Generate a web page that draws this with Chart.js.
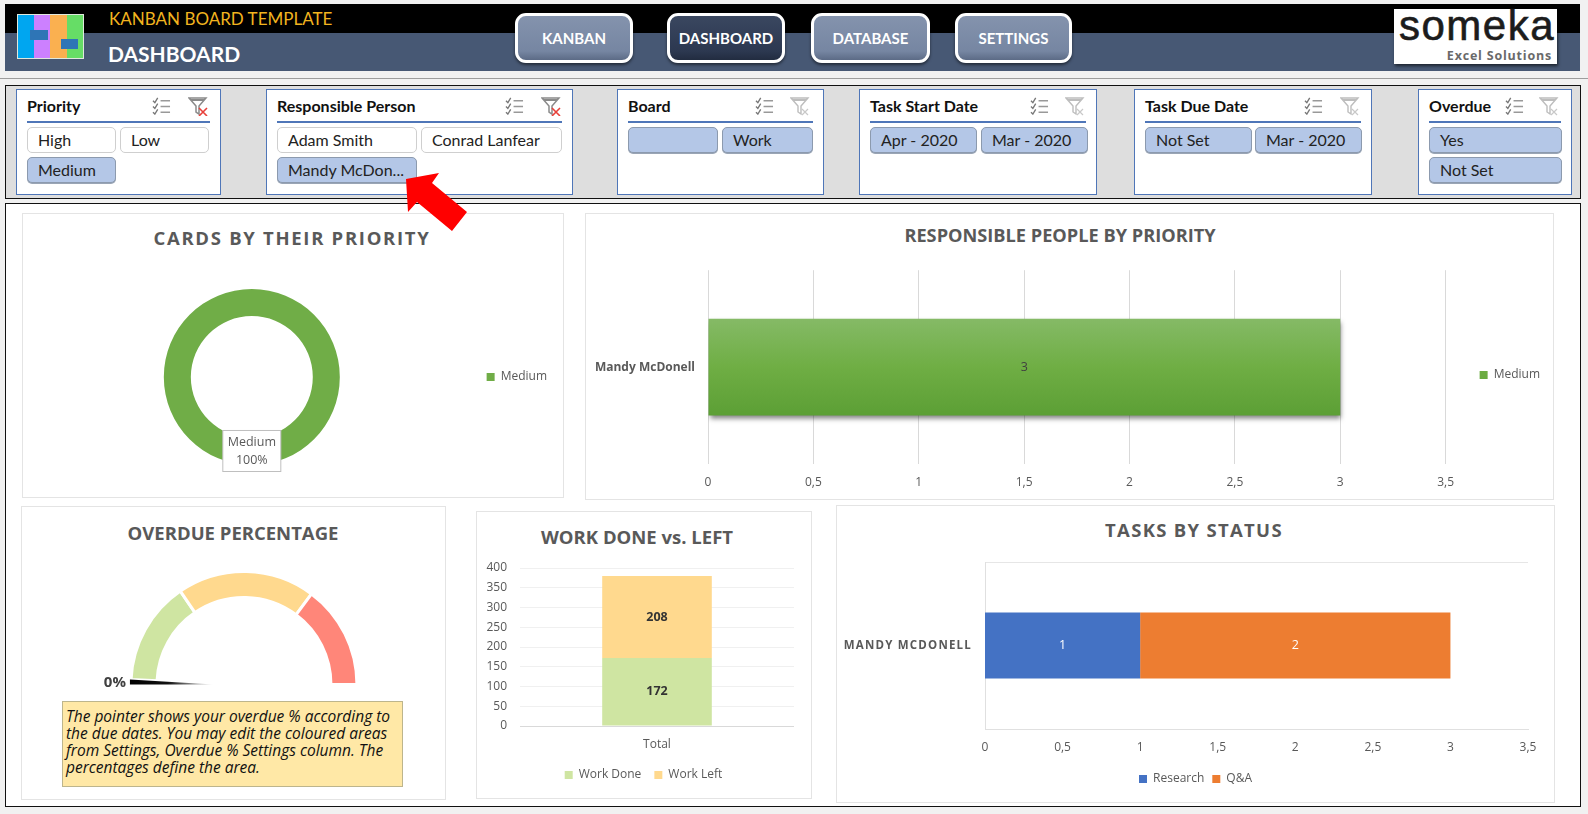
<!DOCTYPE html>
<html>
<head>
<meta charset="utf-8">
<title>Kanban Dashboard</title>
<script src="https://cdn.jsdelivr.net/npm/chart.js@4"></script>
<style>
  html, body { margin: 0; padding: 0; background: #f1f1f1; overflow: hidden; }
  body { position: relative; width: 1588px; height: 814px; font-family: Lato, sans-serif; }
  .abs, canvas, .card, .ttl, .sl, .b, .ic, .nav { position: absolute; }
  canvas { display: block; }

  .nav { top: 13px; height: 44px; line-height: 44px; text-align: center; color: #fff; font-weight: 700; font-size: 15px;
    border: 3px solid #fff; border-radius: 11px; background: linear-gradient(#8493ad, #7686a2 80%, #5c6b86);
    box-shadow: 0 2px 3px rgba(0,0,0,.5); }
  .nav.on { background: linear-gradient(#3a4760, #2c3850 80%, #222c40); }

  .sl { top: 89px; height: 106px; background: #fff; border: 1.5px solid #4f76b8; box-sizing: border-box; }
  .sl b { position: absolute; left: 10px; top: 6px; font-size: 16px; color: #111; }
  .sl i { position: absolute; left: 10px; right: 10px; top: 31px; height: 1.5px; background: #4f76b8; }
  .b { height: 26px; line-height: 23px; box-sizing: border-box; padding-left: 10px; font-size: 16px; color: #222; border-radius: 5px;
    background: #fff; border: 1px solid #cfcfcf; white-space: nowrap; }
  .b.on { background: #b4c7e7; border-color: #8c9aae; box-shadow: 0 1px 0 #9aa5b5; }
  .ic { top: 97px; }

  .card { background: #fff; border: 1.5px solid #e4e4e4; box-sizing: border-box; }
  .ttl { font-family: "Open Sans", sans-serif; font-weight: 700; font-size: 18.5px; color: #595959; text-align: center; white-space: nowrap; line-height: 24px; transform: translateX(-50%); }
</style>
</head>
<body>

<!-- header -->
<div class="abs" style="left:5px;top:4px;width:1575px;height:29px;background:#000"></div>
<div class="abs" style="left:5px;top:33px;width:1575px;height:38px;background:#475874"></div>
<div class="abs" style="left:0;top:78px;width:1588px;height:1px;background:#9d9d9d"></div>

<div class="abs" style="left:17px;top:14px;width:67px;height:45px;border:1px solid #dfe8dd;box-sizing:border-box;background:linear-gradient(90deg,#00a6f0 0 25%,#cc80ff 25% 50%,#fab050 50% 75%,#66dd66 75%)">
  <div class="abs" style="left:12px;top:15px;width:18px;height:10px;background:#2e75b6"></div>
  <div class="abs" style="left:43px;top:24px;width:17px;height:10px;background:#2e75b6"></div>
</div>
<div class="abs" style="left:109px;top:8px;font-size:17px;color:#f2b41f;white-space:nowrap">KANBAN BOARD TEMPLATE</div>
<div class="abs" style="left:108px;top:41px;font-size:21px;font-weight:700;color:#fff;white-space:nowrap">DASHBOARD</div>

<div class="nav" style="left:515px;width:112px">KANBAN</div>
<div class="nav on" style="left:667px;width:112px">DASHBOARD</div>
<div class="nav" style="left:811px;width:113px">DATABASE</div>
<div class="nav" style="left:955px;width:111px">SETTINGS</div>

<div class="abs" style="left:1394px;top:9px;width:163px;height:55px;background:#fff;box-shadow:1px 2px 3px rgba(0,0,0,.6)">
  <div class="abs" style="left:5px;top:-7px;font-family:'Liberation Sans';font-size:42px;letter-spacing:1.5px;-webkit-text-stroke:.6px #1c1c1c;color:#1c1c1c;white-space:nowrap">someka</div>
  <div class="abs" style="right:5px;top:38px;font-family:'Open Sans';font-weight:700;font-size:12.5px;letter-spacing:.8px;color:#6a6a6a;white-space:nowrap">Excel Solutions</div>
</div>

<!-- filter band -->
<div class="abs" style="left:5px;top:85px;width:1576px;height:114px;background:#dedede;border:1.5px solid #111;box-sizing:border-box"></div>

<div class="sl" style="left:16px;width:205px"><b>Priority</b><i></i></div>
<div class="b" style="left:27px;top:127px;width:89px">High</div>
<div class="b" style="left:120px;top:127px;width:89px">Low</div>
<div class="b on" style="left:27px;top:157px;width:89px">Medium</div>

<div class="sl" style="left:266px;width:307px"><b>Responsible Person</b><i></i></div>
<div class="b" style="left:277px;top:127px;width:140px">Adam Smith</div>
<div class="b" style="left:421px;top:127px;width:141px">Conrad Lanfear</div>
<div class="b on" style="left:277px;top:157px;width:140px">Mandy McDon...</div>

<div class="sl" style="left:617px;width:207px"><b>Board</b><i></i></div>
<div class="b on" style="left:628px;top:127px;width:90px"></div>
<div class="b on" style="left:722px;top:127px;width:91px">Work</div>

<div class="sl" style="left:859px;width:238px"><b>Task Start Date</b><i></i></div>
<div class="b on" style="left:870px;top:127px;width:107px">Apr - 2020</div>
<div class="b on" style="left:981px;top:127px;width:107px">Mar - 2020</div>

<div class="sl" style="left:1134px;width:238px"><b>Task Due Date</b><i></i></div>
<div class="b on" style="left:1145px;top:127px;width:107px">Not Set</div>
<div class="b on" style="left:1255px;top:127px;width:107px">Mar - 2020</div>

<div class="sl" style="left:1418px;width:154px"><b>Overdue</b><i></i></div>
<div class="b on" style="left:1429px;top:127px;width:133px">Yes</div>
<div class="b on" style="left:1429px;top:157px;width:133px">Not Set</div>

<svg width="0" height="0" style="position:absolute">
  <symbol id="chk" viewBox="0 0 20 19"><g fill="none" stroke="#777" stroke-width="1.4">
    <path d="M1 4l2 2 3-5M1 10l2 2 3-5M1 16l2 2 3-5"/><path d="M9 4h10M9 10h10M9 16h10" stroke="#999" stroke-width="1.6"/></g></symbol>
  <symbol id="flt" viewBox="0 0 20 19"><path d="M1 1h17l-7 8v8l-3-2V9z" fill="none" stroke="#bdbdbd" stroke-width="1.4"/><path d="M2 2h15l-2 2H4z" fill="#bdbdbd"/><path d="M12 12l6 6M18 12l-6 6" stroke="#c8c8c8" stroke-width="1.2"/></symbol>
  <symbol id="del" viewBox="0 0 20 19"><path d="M1 1h17l-7 8v8l-3-2V9z" fill="none" stroke="#8a8a8a" stroke-width="1.5"/><path d="M2 2h15l-2 2H4z" fill="#8a8a8a"/><path d="M11 11l8 8M19 11l-8 8" stroke="#e8413a" stroke-width="1.6"/></symbol>
</svg>
<svg class="ic" style="left:152px" width="19" height="18"><use href="#chk"/></svg>
<svg class="ic" style="left:188px" width="20" height="19"><use href="#del"/></svg>
<svg class="ic" style="left:505px" width="19" height="18"><use href="#chk"/></svg>
<svg class="ic" style="left:541px" width="20" height="19"><use href="#del"/></svg>
<svg class="ic" style="left:755px" width="19" height="18"><use href="#chk"/></svg>
<svg class="ic" style="left:790px" width="20" height="19"><use href="#flt"/></svg>
<svg class="ic" style="left:1030px" width="19" height="18"><use href="#chk"/></svg>
<svg class="ic" style="left:1065px" width="20" height="19"><use href="#flt"/></svg>
<svg class="ic" style="left:1304px" width="19" height="18"><use href="#chk"/></svg>
<svg class="ic" style="left:1340px" width="20" height="19"><use href="#flt"/></svg>
<svg class="ic" style="left:1505px" width="19" height="18"><use href="#chk"/></svg>
<svg class="ic" style="left:1539px" width="20" height="19"><use href="#flt"/></svg>

<!-- main panel -->
<div class="abs" style="left:5px;top:203px;width:1576px;height:604px;background:#fff;border:1.5px solid #111;box-sizing:border-box"></div>

<div class="card" style="left:22px;top:213px;width:542px;height:285px"></div>
<div class="card" style="left:585px;top:213px;width:969px;height:287px"></div>
<div class="card" style="left:21px;top:506px;width:425px;height:294px"></div>
<div class="card" style="left:476px;top:511px;width:336px;height:288px"></div>
<div class="card" style="left:836px;top:505px;width:719px;height:298px"></div>

<div class="ttl" style="left:292px;top:226px;letter-spacing:1.7px">CARDS BY THEIR PRIORITY</div>
<div class="ttl" style="left:1060px;top:223px;font-size:18.2px">RESPONSIBLE PEOPLE BY PRIORITY</div>
<div class="ttl" style="left:233px;top:521px">OVERDUE PERCENTAGE</div>
<div class="ttl" style="left:637px;top:525px">WORK DONE vs. LEFT</div>
<div class="ttl" style="left:1194px;top:518px;letter-spacing:1.3px">TASKS BY STATUS</div>

<canvas id="chartPriority" width="534" height="234" style="left:23px;top:260px"></canvas>
<canvas id="chartPeople" width="965" height="250" style="left:585px;top:250px"></canvas>
<canvas id="chartGauge" width="288" height="136" style="left:100px;top:560px"></canvas>
<canvas id="chartWork" width="335" height="287" style="left:476px;top:511px"></canvas>
<canvas id="chartStatus" width="719" height="297" style="left:836px;top:505px"></canvas>

<div class="abs" style="left:62px;top:701px;width:341px;height:86px;box-sizing:border-box;background:#ffe8a6;border:1.5px solid #bdb58c;padding:6px 3px;font:italic 15.5px/17px 'Open Sans',sans-serif;color:#111;white-space:nowrap">The pointer shows your overdue % according to<br>the due dates. You may edit the coloured areas<br>from Settings, Overdue % Settings column. The<br>percentages define the area.</div>

<svg class="abs" style="left:0;top:0" width="1588" height="300">
  <polygon points="406,179 439,173 432,183 467,212 452,231 417,202 408,212" fill="#ff0000"/>
</svg>

<script>
// =======================
// DATOS
// =======================
const priorityLabels = ["Medium"];
const priorityValues = [100];

const peopleLabels = ["Mandy McDonell"];
const peopleMedium = [3];

const gaugeLabels = ["Low", "Middle", "High"];
const gaugeZones = [30, 40, 30];
const overduePct = 0;

const workLabels = ["Total"];
const workDone = [172];
const workLeft = [208];

const statusPeople = ["MANDY MCDONELL"];
const statusResearch = [1];
const statusQA = [2];

// =======================
// DEFAULTS
// =======================
Chart.defaults.font.family = '"Open Sans", sans-serif';
Chart.defaults.font.size = 12;
Chart.defaults.color = "#595959";
Chart.defaults.animation = false;
Chart.defaults.responsive = false;
Chart.defaults.plugins.tooltip.enabled = false;

const comma = v => String(v).replace(".", ",");

function legendOpts(position, padding) {
  return {
    position: position,
    labels: { boxWidth: 8, boxHeight: 8, padding: padding, font: { size: 12 }, color: "#595959" }
  };
}

// empty axis on the right: keeps the plot short of the edge while the legend stays centred on the card
function rightSpacer(width) {
  return {
    type: "linear",
    position: "right",
    ticks: { display: false },
    grid: { display: false },
    border: { display: false },
    afterFit(s) { s.width = width; }
  };
}

// numbers in the middle of each bar
const valueLabels = {
  id: "valueLabels",
  afterDatasetsDraw(chart, args, opts) {
    const ctx = chart.ctx;
    ctx.save();
    ctx.fillStyle = opts.color || "#404040";
    ctx.font = (opts.weight || "400") + ' 12.5px "Open Sans"';
    ctx.textAlign = "center";
    ctx.textBaseline = "middle";
    chart.data.datasets.forEach((ds, i) => {
      chart.getDatasetMeta(i).data.forEach((bar, j) => {
        const c = bar.getCenterPoint();
        ctx.fillText(ds.data[j], c.x, c.y);
      });
    });
    ctx.restore();
  }
};

// soft shadow under the green bar
const barShadow = {
  id: "barShadow",
  beforeDatasetsDraw(chart) {
    const ctx = chart.ctx;
    ctx.save();
    ctx.shadowColor = "rgba(0,0,0,0.5)";
    ctx.shadowBlur = 5;
    ctx.shadowOffsetX = 1;
    ctx.shadowOffsetY = 3;
  },
  afterDatasetsDraw(chart) {
    chart.ctx.restore();
  }
};

// white box with the slice name on the donut
const sliceCallout = {
  id: "sliceCallout",
  afterDatasetsDraw(chart) {
    const ctx = chart.ctx;
    const c = chart.getDatasetMeta(0).data[0].getCenterPoint();
    ctx.save();
    ctx.fillStyle = "#fff";
    ctx.strokeStyle = "#bfbfbf";
    ctx.fillRect(c.x - 29, c.y - 21, 58, 41);
    ctx.strokeRect(c.x - 29, c.y - 21, 58, 41);
    ctx.fillStyle = "#595959";
    ctx.font = '12.5px "Open Sans"';
    ctx.textAlign = "center";
    ctx.textBaseline = "middle";
    ctx.fillText(priorityLabels[0], c.x, c.y - 9);
    ctx.fillText(priorityValues[0] + "%", c.x, c.y + 9);
    ctx.restore();
  }
};

// pointer and % text of the gauge
const gaugeNeedle = {
  id: "gaugeNeedle",
  afterDatasetsDraw(chart) {
    const ctx = chart.ctx;
    const arc = chart.getDatasetMeta(0).data[0];
    const R = arc.outerRadius + 1;
    const angle = Math.PI + (overduePct / 100) * Math.PI;
    ctx.save();
    ctx.translate(arc.x, arc.y);
    ctx.save();
    ctx.rotate(angle);
    const g = ctx.createLinearGradient(R, 0, 30, 0);
    g.addColorStop(0, "#000");
    g.addColorStop(0.45, "#111");
    g.addColorStop(1, "rgba(0,0,0,0)");
    ctx.fillStyle = g;
    ctx.beginPath();
    ctx.moveTo(30, 0);
    ctx.lineTo(R, 0);
    ctx.lineTo(R, 5);
    ctx.closePath();
    ctx.fill();
    ctx.restore();
    ctx.fillStyle = "#404040";
    ctx.font = '700 15px "Open Sans"';
    ctx.textAlign = "right";
    ctx.textBaseline = "middle";
    ctx.fillText(overduePct + "%", -R - 4, -2);
    ctx.restore();
  }
};

// wide letter spacing for the category name only
const spacedCategory = {
  id: "spacedCategory",
  beforeDraw(chart) {
    const s = chart.scales.y;
    if (s._spaced) return;
    s._spaced = true;
    const drawLabels = s.drawLabels;
    s.drawLabels = function (area) {
      chart.ctx.save();
      chart.ctx.letterSpacing = "1.2px";
      drawLabels.call(s, area);
      chart.ctx.restore();
    };
  }
};

// =======================
// CARDS BY THEIR PRIORITY
// =======================
new Chart(document.getElementById("chartPriority"), {
  type: "doughnut",
  data: {
    labels: priorityLabels,
    datasets: [{ data: priorityValues, backgroundColor: "#70ad47", borderWidth: 0 }]
  },
  options: {
    radius: 88,
    cutout: "69.3%",
    plugins: { legend: legendOpts("right", 6) }
  },
  plugins: [sliceCallout]
});

// =======================
// RESPONSIBLE PEOPLE BY PRIORITY
// =======================
new Chart(document.getElementById("chartPeople"), {
  type: "bar",
  data: {
    labels: peopleLabels,
    datasets: [{
      label: "Medium",
      data: peopleMedium,
      barPercentage: 0.5,
      categoryPercentage: 1,
      borderWidth: 0,
      backgroundColor(c) {
        const area = c.chart.chartArea;
        if (!area) return "#70ad47";
        const top = area.top + area.height / 4;
        const g = c.chart.ctx.createLinearGradient(0, top, 0, top + area.height / 2);
        g.addColorStop(0, "#85ba66");
        g.addColorStop(0.5, "#6fae44");
        g.addColorStop(1, "#5c9f35");
        return g;
      }
    }]
  },
  options: {
    indexAxis: "y",
    scales: {
      x: {
        min: 0, max: 3.5,
        ticks: { stepSize: 0.5, padding: 11, callback: comma, maxRotation: 0 },
        grid: { color: "#d9d9d9", drawTicks: false },
        border: { display: false },
        afterFit(s) { s.height = 36; }
      },
      y: {
        ticks: { padding: 13, font: { size: 12, weight: "700" } },
        grid: { display: false, drawTicks: false },
        border: { display: false },
        afterFit(s) { s.width = 123; }
      }
    },
    plugins: {
      legend: legendOpts("right", 34),
      valueLabels: { color: "#404040" }
    }
  },
  plugins: [barShadow, valueLabels]
});

// =======================
// OVERDUE PERCENTAGE
// =======================
new Chart(document.getElementById("chartGauge"), {
  type: "doughnut",
  data: {
    labels: gaugeLabels,
    datasets: [{
      data: gaugeZones,
      backgroundColor: ["#cfe5a2", "#ffd98e", "#ff8679"],
      borderColor: "#fff",
      borderWidth: 3
    }]
  },
  options: {
    rotation: -87.5,
    circumference: 177.5,
    radius: 113,
    cutout: "77%",
    plugins: { legend: { display: false } }
  },
  plugins: [gaugeNeedle]
});

// =======================
// WORK DONE vs. LEFT
// =======================
new Chart(document.getElementById("chartWork"), {
  type: "bar",
  data: {
    labels: workLabels,
    datasets: [
      { label: "Work Done", data: workDone, backgroundColor: "#cfe5a2", barPercentage: 0.4, categoryPercentage: 1 },
      { label: "Work Left", data: workLeft, backgroundColor: "#ffd98e", barPercentage: 0.4, categoryPercentage: 1 }
    ]
  },
  options: {
    layout: { padding: { top: 57, bottom: 7 } },
    scales: {
      x: {
        stacked: true,
        ticks: { padding: 11 },
        grid: { display: false, drawTicks: false },
        border: { display: false },
        afterFit(s) { s.height = 30; }
      },
      y: {
        stacked: true,
        min: 0, max: 400,
        ticks: { stepSize: 50, padding: 13 },
        grid: { color: c => (c.tick.value === 0 ? "#d9d9d9" : "#f0f0f0"), drawTicks: false },
        border: { display: false },
        afterFit(s) { s.width = 44; }
      },
      y2: rightSpacer(17)
    },
    plugins: {
      legend: legendOpts("bottom", 13),
      valueLabels: { color: "#333", weight: "700" }
    }
  },
  plugins: [valueLabels]
});

// =======================
// TASKS BY STATUS
// =======================
new Chart(document.getElementById("chartStatus"), {
  type: "bar",
  data: {
    labels: statusPeople,
    datasets: [
      { label: "Research", data: statusResearch, backgroundColor: "#4472c4", barPercentage: 0.395, categoryPercentage: 1 },
      { label: "Q&A", data: statusQA, backgroundColor: "#ed7d31", barPercentage: 0.395, categoryPercentage: 1 }
    ]
  },
  options: {
    indexAxis: "y",
    layout: { padding: { top: 57, bottom: 7 } },
    scales: {
      x: {
        stacked: true,
        min: 0, max: 3.5,
        ticks: { stepSize: 0.5, padding: 11, callback: comma, maxRotation: 0 },
        grid: { display: false, drawTicks: false },
        border: { color: "#e0e0e0" },
        afterFit(s) { s.height = 36; }
      },
      y: {
        stacked: true,
        ticks: { padding: 13, font: { size: 11.5, weight: "700" } },
        grid: { color: "#e6e6e6", drawTicks: false },
        border: { color: "#e0e0e0" },
        afterFit(s) { s.width = 149; }
      },
      y2: rightSpacer(27)
    },
    plugins: {
      legend: legendOpts("bottom", 8),
      valueLabels: { color: "#fff" }
    }
  },
  plugins: [valueLabels, spacedCategory]
});
</script>
</body>
</html>
